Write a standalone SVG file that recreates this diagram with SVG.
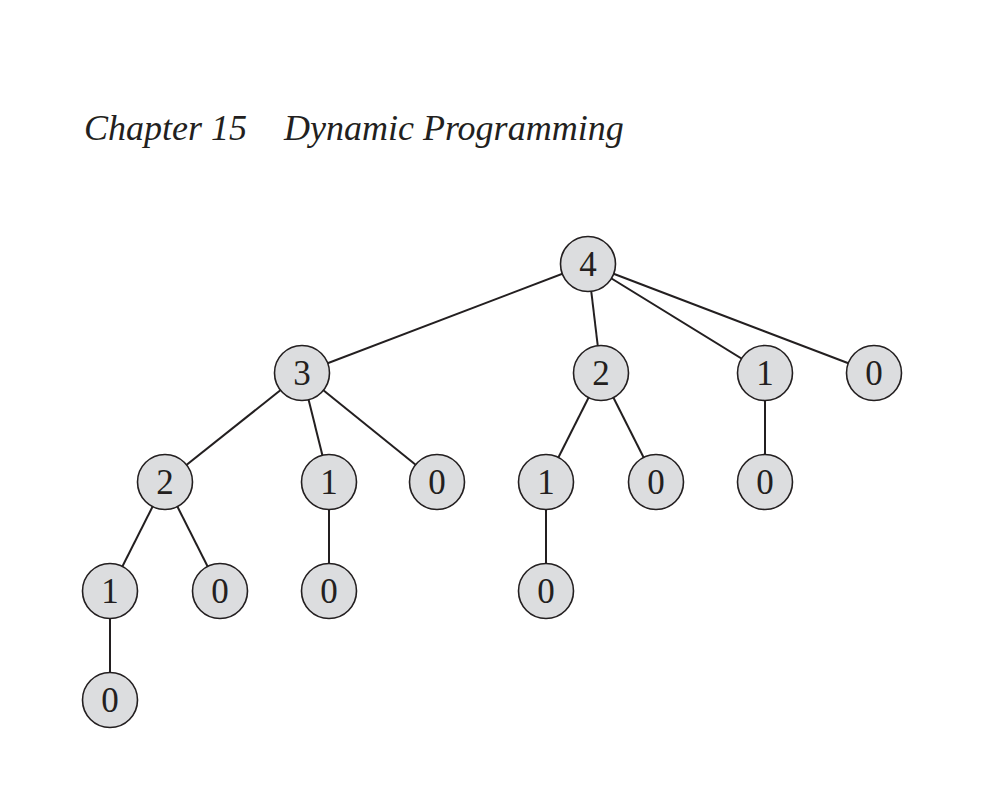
<svg xmlns="http://www.w3.org/2000/svg" width="1006" height="788" viewBox="0 0 1006 788">
<style>
.t{font-family:"Liberation Serif","Times New Roman",serif;font-style:italic;font-size:36px;fill:#231f20}
.n circle{fill:#dcdddf;stroke:#231f20;stroke-width:1.6}
.n text{font-family:"Liberation Serif","Times New Roman",serif;font-size:35px;fill:#231f20;text-anchor:middle}
.e line{stroke:#231f20;stroke-width:2}
</style>
<rect width="1006" height="788" fill="#fff"/>
<text class="t" x="84" y="140">Chapter 15</text>
<text class="t" x="284" y="140">Dynamic Programming</text>
<g id="edges" class="e">
<line x1="588" y1="264" x2="302" y2="373"/>
<line x1="588" y1="264" x2="601" y2="373"/>
<line x1="588" y1="264" x2="765" y2="373"/>
<line x1="588" y1="264" x2="874" y2="373"/>
<line x1="302" y1="373" x2="165" y2="482"/>
<line x1="302" y1="373" x2="329" y2="482"/>
<line x1="302" y1="373" x2="437" y2="482"/>
<line x1="601" y1="373" x2="546" y2="482"/>
<line x1="601" y1="373" x2="656" y2="482"/>
<line x1="765" y1="373" x2="765" y2="482"/>
<line x1="165" y1="482" x2="110" y2="591"/>
<line x1="165" y1="482" x2="220" y2="591"/>
<line x1="329" y1="482" x2="329" y2="591"/>
<line x1="546" y1="482" x2="546" y2="591"/>
<line x1="110" y1="591" x2="110" y2="700"/>
</g>
<g id="n4" class="n"><circle cx="588" cy="264" r="27.5"/><text x="588" y="276">4</text></g>
<g id="n3" class="n"><circle cx="302" cy="373" r="27.5"/><text x="302" y="385">3</text></g>
<g id="n2a" class="n"><circle cx="601" cy="373" r="27.5"/><text x="601" y="385">2</text></g>
<g id="n1a" class="n"><circle cx="765" cy="373" r="27.5"/><text x="765" y="385">1</text></g>
<g id="n0a" class="n"><circle cx="874" cy="373" r="27.5"/><text x="874" y="385">0</text></g>
<g id="n2b" class="n"><circle cx="165" cy="482" r="27.5"/><text x="165" y="494">2</text></g>
<g id="n1b" class="n"><circle cx="329" cy="482" r="27.5"/><text x="329" y="494">1</text></g>
<g id="n0b" class="n"><circle cx="437" cy="482" r="27.5"/><text x="437" y="494">0</text></g>
<g id="n1c" class="n"><circle cx="546" cy="482" r="27.5"/><text x="546" y="494">1</text></g>
<g id="n0c" class="n"><circle cx="656" cy="482" r="27.5"/><text x="656" y="494">0</text></g>
<g id="n0d" class="n"><circle cx="765" cy="482" r="27.5"/><text x="765" y="494">0</text></g>
<g id="n1d" class="n"><circle cx="110" cy="591" r="27.5"/><text x="110" y="603">1</text></g>
<g id="n0e" class="n"><circle cx="220" cy="591" r="27.5"/><text x="220" y="603">0</text></g>
<g id="n0f" class="n"><circle cx="329" cy="591" r="27.5"/><text x="329" y="603">0</text></g>
<g id="n0g" class="n"><circle cx="546" cy="591" r="27.5"/><text x="546" y="603">0</text></g>
<g id="n0h" class="n"><circle cx="110" cy="700" r="27.5"/><text x="110" y="712">0</text></g>
</svg>
